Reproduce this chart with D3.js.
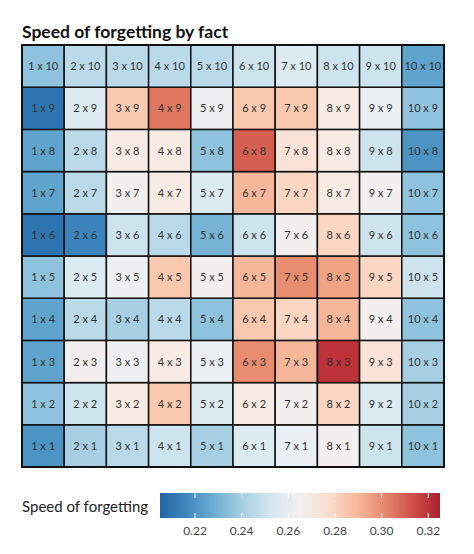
<!DOCTYPE html>
<html>
<head>
<style>
  body { margin: 0; background: #fff; font-family: Lato, "Open Sans", sans-serif; }
</style>
</head>
<body>
<script src="https://d3js.org/d3.v7.min.js"></script>
<script>
const width = 474, height = 554;
const nums = [1, 2, 3, 4, 5, 6, 7, 8, 9, 10];
// speed[y-1][x-1], rows y = 1..10
const speed = [
  [0.220, 0.240, 0.245, 0.250, 0.240, 0.255, 0.260, 0.265, 0.250, 0.235],
  [0.235, 0.250, 0.270, 0.285, 0.255, 0.270, 0.265, 0.280, 0.255, 0.240],
  [0.225, 0.265, 0.262, 0.270, 0.260, 0.300, 0.290, 0.320, 0.275, 0.240],
  [0.225, 0.245, 0.240, 0.245, 0.235, 0.285, 0.280, 0.290, 0.265, 0.235],
  [0.235, 0.255, 0.262, 0.285, 0.265, 0.290, 0.300, 0.295, 0.280, 0.250],
  [0.210, 0.215, 0.250, 0.245, 0.230, 0.250, 0.265, 0.280, 0.250, 0.235],
  [0.225, 0.245, 0.265, 0.270, 0.255, 0.290, 0.280, 0.270, 0.265, 0.235],
  [0.225, 0.245, 0.270, 0.270, 0.235, 0.310, 0.275, 0.270, 0.250, 0.220],
  [0.210, 0.255, 0.285, 0.305, 0.262, 0.285, 0.285, 0.270, 0.260, 0.235],
  [0.235, 0.245, 0.245, 0.245, 0.245, 0.250, 0.255, 0.250, 0.250, 0.225]
];
const legendTicks = [0.22, 0.24, 0.26, 0.28, 0.30, 0.32];

const cells = [];
nums.forEach((y, i) => nums.forEach((x, j) => cells.push({ x, y, v: speed[i][j] })));

// softened RdBu, reversed
const color = d3.scaleSequential(t => d3.interpolateRdBu(0.9 - 0.8 * t)).domain([0.205, 0.325]);
const xs = d3.scaleBand().domain(nums).range([22, 444]);
const ys = d3.scaleBand().domain(nums.slice().reverse()).range([45, 467]);

const svg = d3.select("body").append("svg").attr("width", width).attr("height", height);

svg.append("text").attr("x", 22).attr("y", 38)
  .attr("font-size", 17.5).attr("font-weight", 700).attr("fill", "#111")
  .text("Speed of forgetting by fact");

const g = svg.selectAll("g.cell").data(cells).enter().append("g");
g.append("rect")
  .attr("x", d => xs(d.x)).attr("y", d => ys(d.y))
  .attr("width", xs.bandwidth()).attr("height", ys.bandwidth())
  .attr("fill", d => color(d.v))
  .attr("stroke", "#111").attr("stroke-width", 1.5);
g.append("text")
  .attr("x", d => xs(d.x) + xs.bandwidth() / 2)
  .attr("y", d => ys(d.y) + ys.bandwidth() / 2 + 4)
  .attr("text-anchor", "middle").attr("font-size", 11).attr("fill", "#333")
  .text(d => `${d.x} x ${d.y}`);
svg.append("rect").attr("x", 22).attr("y", 45).attr("width", 422).attr("height", 422)
  .attr("fill", "none").attr("stroke", "#111").attr("stroke-width", 2);

// legend
svg.append("text").attr("x", 22).attr("y", 512).attr("font-size", 15).attr("fill", "#222")
  .text("Speed of forgetting");
const lx = d3.scaleLinear().domain([0.205, 0.325]).range([160, 440]);
const grad = svg.append("defs").append("linearGradient").attr("id", "lg");
d3.range(0, 1.0001, 0.1).forEach(t => grad.append("stop")
  .attr("offset", t).attr("stop-color", color(0.205 + t * 0.12)));
svg.append("rect").attr("x", 160).attr("y", 493).attr("width", 280).attr("height", 25)
  .attr("fill", "url(#lg)");
svg.selectAll("line.tk").data(legendTicks).enter().append("line")
  .attr("x1", d => lx(d)).attr("x2", d => lx(d)).attr("y1", 513).attr("y2", 518)
  .attr("stroke", "#fff").attr("stroke-width", 1);
svg.selectAll("line.tk2").data(legendTicks).enter().append("line")
  .attr("x1", d => lx(d)).attr("x2", d => lx(d)).attr("y1", 493).attr("y2", 498)
  .attr("stroke", "#fff").attr("stroke-width", 1);
svg.selectAll("text.tl").data(legendTicks).enter().append("text")
  .attr("x", d => lx(d)).attr("y", 535).attr("text-anchor", "middle")
  .attr("font-size", 12).attr("fill", "#444")
  .text(d3.format(".2f"));
</script>
</body>
</html>
